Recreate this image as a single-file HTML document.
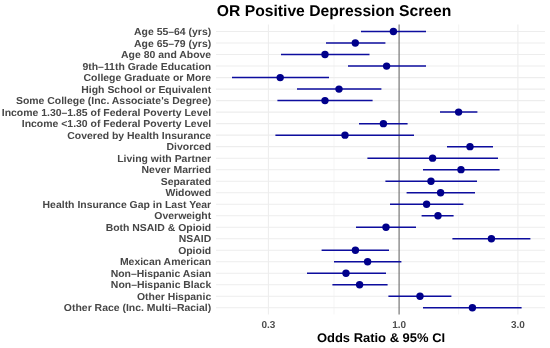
<!DOCTYPE html>
<html><head><meta charset="utf-8"><style>
html,body{margin:0;padding:0;background:#fff;width:550px;height:348px;overflow:hidden}
svg{display:block;will-change:transform}
text{font-family:"Liberation Sans",sans-serif;font-weight:bold;text-rendering:geometricPrecision}
.yl{font-size:10.1px;fill:#474747}
.xl{font-size:10px;fill:#4D4D4D}
.xt{font-size:12.6px;fill:#000}
.tt{font-size:15.6px;fill:#000}
</style></head><body>
<svg width="550" height="348" viewBox="0 0 550 348">
<line x1="334.00" y1="24.4" x2="334.00" y2="314.4" stroke="#EEEEEE" stroke-width="0.6"/>
<line x1="458.60" y1="24.4" x2="458.60" y2="314.4" stroke="#EEEEEE" stroke-width="0.6"/>
<line x1="268.40" y1="24.4" x2="268.40" y2="314.4" stroke="#EDEDED" stroke-width="1.07"/>
<line x1="517.90" y1="24.4" x2="517.90" y2="314.4" stroke="#EDEDED" stroke-width="1.07"/>
<line x1="216.0" y1="31.55" x2="545.0" y2="31.55" stroke="#EDEDED" stroke-width="1.07"/>
<line x1="216.0" y1="43.06" x2="545.0" y2="43.06" stroke="#EDEDED" stroke-width="1.07"/>
<line x1="216.0" y1="54.57" x2="545.0" y2="54.57" stroke="#EDEDED" stroke-width="1.07"/>
<line x1="216.0" y1="66.08" x2="545.0" y2="66.08" stroke="#EDEDED" stroke-width="1.07"/>
<line x1="216.0" y1="77.59" x2="545.0" y2="77.59" stroke="#EDEDED" stroke-width="1.07"/>
<line x1="216.0" y1="89.10" x2="545.0" y2="89.10" stroke="#EDEDED" stroke-width="1.07"/>
<line x1="216.0" y1="100.61" x2="545.0" y2="100.61" stroke="#EDEDED" stroke-width="1.07"/>
<line x1="216.0" y1="112.12" x2="545.0" y2="112.12" stroke="#EDEDED" stroke-width="1.07"/>
<line x1="216.0" y1="123.63" x2="545.0" y2="123.63" stroke="#EDEDED" stroke-width="1.07"/>
<line x1="216.0" y1="135.14" x2="545.0" y2="135.14" stroke="#EDEDED" stroke-width="1.07"/>
<line x1="216.0" y1="146.65" x2="545.0" y2="146.65" stroke="#EDEDED" stroke-width="1.07"/>
<line x1="216.0" y1="158.16" x2="545.0" y2="158.16" stroke="#EDEDED" stroke-width="1.07"/>
<line x1="216.0" y1="169.67" x2="545.0" y2="169.67" stroke="#EDEDED" stroke-width="1.07"/>
<line x1="216.0" y1="181.18" x2="545.0" y2="181.18" stroke="#EDEDED" stroke-width="1.07"/>
<line x1="216.0" y1="192.69" x2="545.0" y2="192.69" stroke="#EDEDED" stroke-width="1.07"/>
<line x1="216.0" y1="204.20" x2="545.0" y2="204.20" stroke="#EDEDED" stroke-width="1.07"/>
<line x1="216.0" y1="215.71" x2="545.0" y2="215.71" stroke="#EDEDED" stroke-width="1.07"/>
<line x1="216.0" y1="227.22" x2="545.0" y2="227.22" stroke="#EDEDED" stroke-width="1.07"/>
<line x1="216.0" y1="238.73" x2="545.0" y2="238.73" stroke="#EDEDED" stroke-width="1.07"/>
<line x1="216.0" y1="250.24" x2="545.0" y2="250.24" stroke="#EDEDED" stroke-width="1.07"/>
<line x1="216.0" y1="261.75" x2="545.0" y2="261.75" stroke="#EDEDED" stroke-width="1.07"/>
<line x1="216.0" y1="273.26" x2="545.0" y2="273.26" stroke="#EDEDED" stroke-width="1.07"/>
<line x1="216.0" y1="284.77" x2="545.0" y2="284.77" stroke="#EDEDED" stroke-width="1.07"/>
<line x1="216.0" y1="296.28" x2="545.0" y2="296.28" stroke="#EDEDED" stroke-width="1.07"/>
<line x1="216.0" y1="307.79" x2="545.0" y2="307.79" stroke="#EDEDED" stroke-width="1.07"/>
<line x1="399.1" y1="24.4" x2="399.1" y2="314.4" stroke="#777777" stroke-width="1.2"/>
<line x1="361" y1="31.55" x2="426" y2="31.55" stroke="#0D0D9E" stroke-width="1.5"/>
<line x1="326" y1="43.06" x2="385.4" y2="43.06" stroke="#0D0D9E" stroke-width="1.5"/>
<line x1="281" y1="54.57" x2="369.5" y2="54.57" stroke="#0D0D9E" stroke-width="1.5"/>
<line x1="348" y1="66.08" x2="426" y2="66.08" stroke="#0D0D9E" stroke-width="1.5"/>
<line x1="232" y1="77.59" x2="329" y2="77.59" stroke="#0D0D9E" stroke-width="1.5"/>
<line x1="297" y1="89.10" x2="381.4" y2="89.10" stroke="#0D0D9E" stroke-width="1.5"/>
<line x1="277.4" y1="100.61" x2="372.6" y2="100.61" stroke="#0D0D9E" stroke-width="1.5"/>
<line x1="440" y1="112.12" x2="477.4" y2="112.12" stroke="#0D0D9E" stroke-width="1.5"/>
<line x1="359" y1="123.63" x2="407.6" y2="123.63" stroke="#0D0D9E" stroke-width="1.5"/>
<line x1="275.4" y1="135.14" x2="414" y2="135.14" stroke="#0D0D9E" stroke-width="1.5"/>
<line x1="447" y1="146.65" x2="493" y2="146.65" stroke="#0D0D9E" stroke-width="1.5"/>
<line x1="367.4" y1="158.16" x2="498" y2="158.16" stroke="#0D0D9E" stroke-width="1.5"/>
<line x1="423" y1="169.67" x2="499.6" y2="169.67" stroke="#0D0D9E" stroke-width="1.5"/>
<line x1="385.4" y1="181.18" x2="477" y2="181.18" stroke="#0D0D9E" stroke-width="1.5"/>
<line x1="406.6" y1="192.69" x2="475" y2="192.69" stroke="#0D0D9E" stroke-width="1.5"/>
<line x1="390" y1="204.20" x2="463.4" y2="204.20" stroke="#0D0D9E" stroke-width="1.5"/>
<line x1="421.6" y1="215.71" x2="453.6" y2="215.71" stroke="#0D0D9E" stroke-width="1.5"/>
<line x1="356" y1="227.22" x2="416" y2="227.22" stroke="#0D0D9E" stroke-width="1.5"/>
<line x1="452.4" y1="238.73" x2="530.4" y2="238.73" stroke="#0D0D9E" stroke-width="1.5"/>
<line x1="321.6" y1="250.24" x2="389" y2="250.24" stroke="#0D0D9E" stroke-width="1.5"/>
<line x1="334" y1="261.75" x2="401.4" y2="261.75" stroke="#0D0D9E" stroke-width="1.5"/>
<line x1="307" y1="273.26" x2="386" y2="273.26" stroke="#0D0D9E" stroke-width="1.5"/>
<line x1="332.4" y1="284.77" x2="387.6" y2="284.77" stroke="#0D0D9E" stroke-width="1.5"/>
<line x1="388.4" y1="296.28" x2="451.4" y2="296.28" stroke="#0D0D9E" stroke-width="1.5"/>
<line x1="423" y1="307.79" x2="521.6" y2="307.79" stroke="#0D0D9E" stroke-width="1.5"/>
<circle cx="393.4" cy="31.55" r="3.7" fill="#00008B"/>
<circle cx="355.3" cy="43.06" r="3.7" fill="#00008B"/>
<circle cx="325" cy="54.57" r="3.7" fill="#00008B"/>
<circle cx="386.6" cy="66.08" r="3.7" fill="#00008B"/>
<circle cx="280.2" cy="77.59" r="3.7" fill="#00008B"/>
<circle cx="339" cy="89.10" r="3.7" fill="#00008B"/>
<circle cx="325" cy="100.61" r="3.7" fill="#00008B"/>
<circle cx="458.6" cy="112.12" r="3.7" fill="#00008B"/>
<circle cx="383.4" cy="123.63" r="3.7" fill="#00008B"/>
<circle cx="345" cy="135.14" r="3.7" fill="#00008B"/>
<circle cx="470" cy="146.65" r="3.7" fill="#00008B"/>
<circle cx="432.6" cy="158.16" r="3.7" fill="#00008B"/>
<circle cx="461" cy="169.67" r="3.7" fill="#00008B"/>
<circle cx="431" cy="181.18" r="3.7" fill="#00008B"/>
<circle cx="440.6" cy="192.69" r="3.7" fill="#00008B"/>
<circle cx="426.6" cy="204.20" r="3.7" fill="#00008B"/>
<circle cx="438" cy="215.71" r="3.7" fill="#00008B"/>
<circle cx="386" cy="227.22" r="3.7" fill="#00008B"/>
<circle cx="491.4" cy="238.73" r="3.7" fill="#00008B"/>
<circle cx="355.4" cy="250.24" r="3.7" fill="#00008B"/>
<circle cx="367.6" cy="261.75" r="3.7" fill="#00008B"/>
<circle cx="346" cy="273.26" r="3.7" fill="#00008B"/>
<circle cx="359.6" cy="284.77" r="3.7" fill="#00008B"/>
<circle cx="420" cy="296.28" r="3.7" fill="#00008B"/>
<circle cx="472.4" cy="307.79" r="3.7" fill="#00008B"/>
<g transform="translate(211.2,0) scale(1.034,1) translate(-211.2,0)">
<text x="211.2" y="35.25" text-anchor="end" class="yl">Age 55–64 (yrs)</text>
<text x="211.2" y="46.76" text-anchor="end" class="yl">Age 65–79 (yrs)</text>
<text x="211.2" y="58.27" text-anchor="end" class="yl">Age 80 and Above</text>
<text x="211.2" y="69.78" text-anchor="end" class="yl">9th–11th Grade Education</text>
<text x="211.2" y="81.29" text-anchor="end" class="yl">College Graduate or More</text>
<text x="211.2" y="92.80" text-anchor="end" class="yl">High School or Equivalent</text>
<text x="211.2" y="104.31" text-anchor="end" class="yl">Some College (Inc. Associate's Degree)</text>
<text x="211.2" y="115.82" text-anchor="end" class="yl">Income 1.30–1.85 of Federal Poverty Level</text>
<text x="211.2" y="127.33" text-anchor="end" class="yl">Income &lt;1.30 of Federal Poverty Level</text>
<text x="211.2" y="138.84" text-anchor="end" class="yl">Covered by Health Insurance</text>
<text x="211.2" y="150.35" text-anchor="end" class="yl">Divorced</text>
<text x="211.2" y="161.86" text-anchor="end" class="yl">Living with Partner</text>
<text x="211.2" y="173.37" text-anchor="end" class="yl">Never Married</text>
<text x="211.2" y="184.88" text-anchor="end" class="yl">Separated</text>
<text x="211.2" y="196.39" text-anchor="end" class="yl">Widowed</text>
<text x="211.2" y="207.90" text-anchor="end" class="yl">Health Insurance Gap in Last Year</text>
<text x="211.2" y="219.41" text-anchor="end" class="yl">Overweight</text>
<text x="211.2" y="230.92" text-anchor="end" class="yl">Both NSAID &amp; Opioid</text>
<text x="211.2" y="242.43" text-anchor="end" class="yl">NSAID</text>
<text x="211.2" y="253.94" text-anchor="end" class="yl">Opioid</text>
<text x="211.2" y="265.45" text-anchor="end" class="yl">Mexican American</text>
<text x="211.2" y="276.96" text-anchor="end" class="yl">Non–Hispanic Asian</text>
<text x="211.2" y="288.47" text-anchor="end" class="yl">Non–Hispanic Black</text>
<text x="211.2" y="299.98" text-anchor="end" class="yl">Other Hispanic</text>
<text x="211.2" y="311.49" text-anchor="end" class="yl">Other Race (Inc. Multi–Racial)</text>
</g>
<text x="268.4" y="327.5" text-anchor="middle" class="xl">0.3</text>
<text x="399.1" y="327.5" text-anchor="middle" class="xl">1.0</text>
<text x="517.9" y="327.5" text-anchor="middle" class="xl">3.0</text>
<g transform="translate(381,0) scale(1.029,1) translate(-381,0)"><text x="381" y="341.8" text-anchor="middle" class="xt">Odds Ratio &amp; 95% CI</text></g>
<g transform="translate(216.8,0) scale(1.006,1) translate(-216.8,0)"><text x="216.8" y="16.0" class="tt">OR Positive Depression Screen</text></g>
</svg>
</body></html>
